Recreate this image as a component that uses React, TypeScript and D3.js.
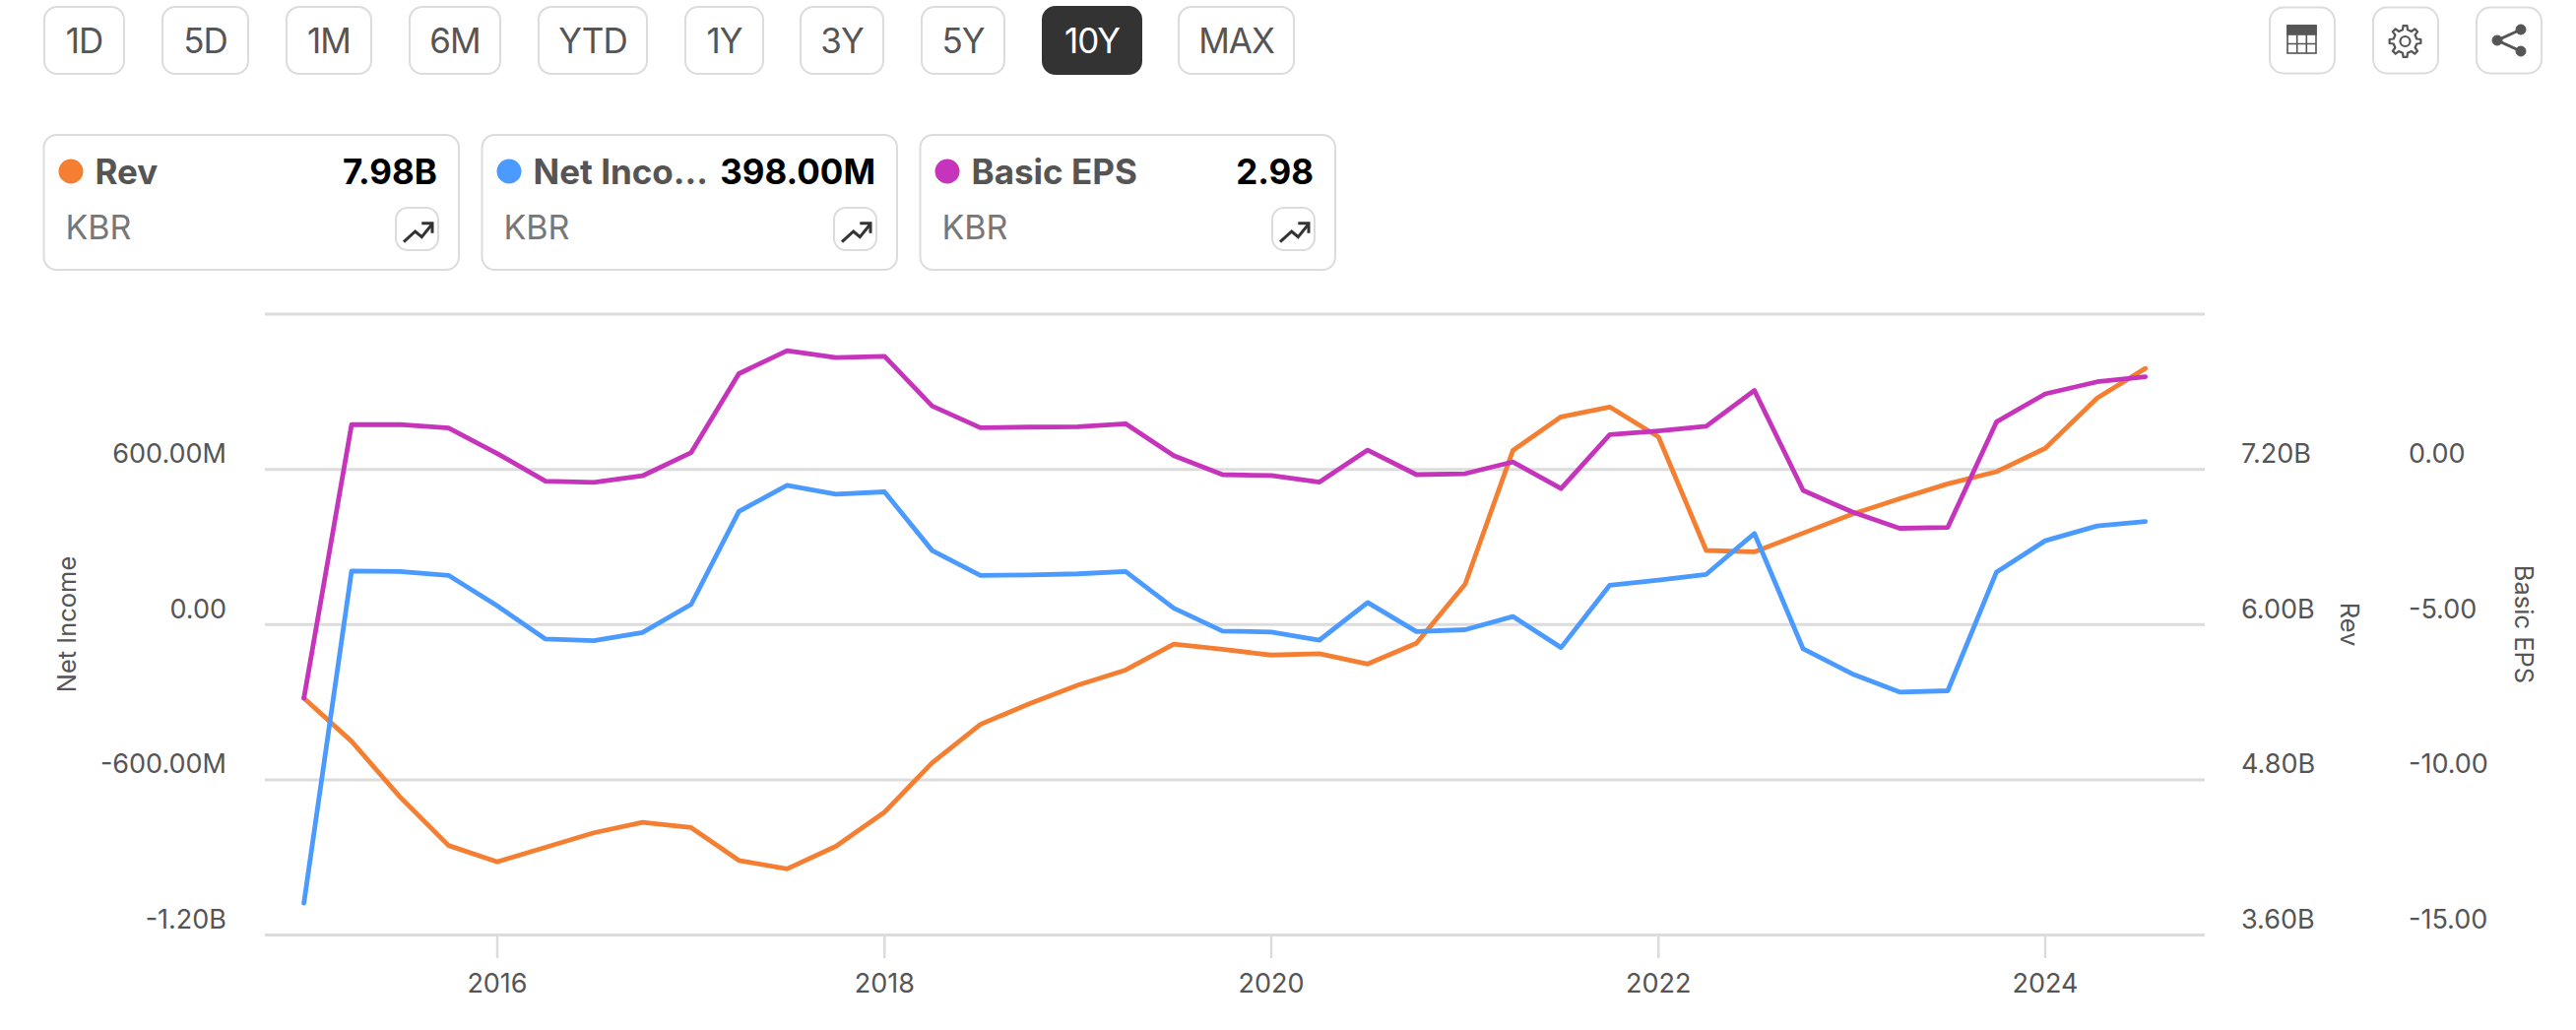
import React from "react";
import * as d3 from "d3";

const quarters = [
  "2015-01-01","2015-04-01","2015-07-01","2015-10-01","2016-01-01","2016-04-01","2016-07-01","2016-10-01",
  "2017-01-01","2017-04-01","2017-07-01","2017-10-01","2018-01-01","2018-04-01","2018-07-01","2018-10-01",
  "2019-01-01","2019-04-01","2019-07-01","2019-10-01","2020-01-01","2020-04-01","2020-07-01","2020-10-01",
  "2021-01-01","2021-04-01","2021-07-01","2021-10-01","2022-01-01","2022-04-01","2022-07-01","2022-10-01",
  "2023-01-01","2023-04-01","2023-07-01","2023-10-01","2024-01-01","2024-04-08","2024-07-08",
];
const revenueB = [
  5.431,5.097,4.669,4.292,4.166,4.278,4.39,4.47,4.43,4.176,4.111,4.285,4.55,4.931,5.228,5.387,
  5.532,5.648,5.848,5.808,5.764,5.775,5.695,5.855,6.312,7.345,7.606,7.682,7.45,6.573,6.562,6.707,
  6.852,6.972,7.088,7.182,7.363,7.751,7.98,
];
const netIncomeM = [
  -1077,207,205,190,72,-56,-62,-31,78,437,538,504,513,286,190,192,
  196,205,63,-25,-29,-60,85,-27,-20,31,-89,152,172,194,352,-94,
  -190,-261,-256,203,324,381,398,
];
const basicEps = [
  -7.37,1.44,1.44,1.33,0.51,-0.38,-0.42,-0.21,0.54,3.08,3.82,3.6,3.64,2.04,1.34,1.36,
  1.37,1.47,0.44,-0.17,-0.2,-0.41,0.62,-0.17,-0.14,0.24,-0.62,1.12,1.24,1.39,2.54,-0.68,
  -1.37,-1.9,-1.87,1.53,2.43,2.82,2.98,
];
const yearTicks = ["2016", "2018", "2020", "2022", "2024"];
const gridIndex = [0, 1, 2, 3, 4];
const leftTicks = ["", "600.00M", "0.00", "-600.00M", "-1.20B"];
const revTicks = ["", "7.20B", "6.00B", "4.80B", "3.60B"];
const epsTicks = ["", "0.00", "-5.00", "-10.00", "-15.00"];
const rangeButtons = [
  ["1D", 44, 127], ["5D", 164, 253], ["1M", 290, 378], ["6M", 415, 509], ["YTD", 546, 658],
  ["1Y", 695, 776], ["3Y", 812, 898], ["5Y", 935, 1021], ["10Y", 1058, 1160], ["MAX", 1196, 1315],
] as const;
const cards = [
  { name: "Rev", value: "7.98B", color: "#F47F32", x0: 43.5, x1: 467 },
  { name: "Net Inco...", value: "398.00M", color: "#4A9AFF", x0: 488.5, x1: 912 },
  { name: "Basic EPS", value: "2.98", color: "#C634BC", x0: 933.5, x1: 1357 },
];

const FONT = "Inter, 'Noto Sans', sans-serif";
const GREY = "#dcdcdc";
const TEXT = "#555555";

const plot = { left: 269, right: 2239, top: 319, bottom: 949.5 };

const x = d3.scaleUtc()
  .domain([new Date("2016-01-01"), new Date("2024-01-01")])
  .range([505, 2077]);
const yNet = d3.scaleLinear().domain([-1200, 1200]).range([plot.bottom, plot.top]);
const yRev = d3.scaleLinear().domain([3.6, 8.4]).range([plot.bottom, plot.top]);
const yEps = d3.scaleLinear().domain([-15, 5]).range([plot.bottom, plot.top]);
const yGrid = d3.scaleLinear().domain([0, 4]).range([plot.top, plot.bottom]);

function linePath(values: number[], y: (v: number) => number) {
  return d3.line<number>()
    .x((_, i) => x(new Date(quarters[i])))
    .y((v) => y(v))(values) as string;
}

function gearPath(cx: number, cy: number, rOuter: number, rInner: number, teeth: number) {
  const pts: [number, number][] = [];
  const step = (Math.PI * 2) / teeth;
  for (let i = 0; i < teeth; i++) {
    const a = i * step - Math.PI / 2;
    const w = step * 0.2;
    [[a - w * 1.35, rInner], [a - w * 0.8, rOuter], [a + w * 0.8, rOuter], [a + w * 1.35, rInner]].forEach(([t, r]) => {
      pts.push([cx + r * Math.cos(t), cy + r * Math.sin(t)]);
    });
  }
  return d3.line().curve(d3.curveLinearClosed)(pts) as string;
}

function IconBox({ x0, x1 }: { x0: number; x1: number }) {
  return <rect x={x0 + 1} y={7.5} width={x1 - x0 - 2} height={67} rx={14} fill="#fff" stroke={GREY} strokeWidth={2} />;
}

export default function App() {
  return (
    <svg width={2616} height={1046} style={{ position: "absolute", left: 0, top: 0, display: "block", background: "#fff" }}>
      {rangeButtons.map(([label, x0, x1]) => {
        const active = label === "10Y";
        return (
          <g key={label}>
            <rect x={x0 + 1} y={7} width={x1 - x0 - 2} height={68} rx={13}
              fill={active ? "#333333" : "#fff"} stroke={active ? "#333333" : GREY} strokeWidth={2} />
            <text x={(x0 + x1) / 2} y={54} textAnchor="middle" fontFamily={FONT} fontSize={35} letterSpacing={-1}
              fill={active ? "#fff" : TEXT}>{label}</text>
          </g>
        );
      })}

      <IconBox x0={2304} x1={2372} />
      <g fill="none" stroke="#555" strokeWidth={1.6}>
        <rect x={2323} y={26} width={29} height={28} />
        <rect x={2323} y={26} width={29} height={9} fill="#555" />
        <path d="M2323 44.5H2352M2332.7 35V54M2342.3 35V54" />
      </g>
      <IconBox x0={2409} x1={2477} />
      <path d={gearPath(2442.5, 42, 16, 12, 8)} fill="none" stroke="#555" strokeWidth={2.2} strokeLinejoin="round" />
      <circle cx={2442.5} cy={42} r={5} fill="none" stroke="#555" strokeWidth={2.2} />
      <IconBox x0={2514} x1={2582} />
      <g fill="#555" stroke="#555">
        <path d="M2560 30L2536 41L2560 52" fill="none" strokeWidth={3} />
        <circle cx={2560} cy={30} r={5} />
        <circle cx={2560} cy={52} r={5} />
        <circle cx={2536} cy={41} r={5} />
      </g>

      {cards.map((c) => (
        <g key={c.name}>
          <rect x={c.x0 + 1} y={137} width={c.x1 - c.x0 - 2} height={137} rx={13} fill="#fff" stroke={GREY} strokeWidth={2} />
          <circle cx={c.x0 + 28.5} cy={174} r={12.5} fill={c.color} />
          <text x={c.x0 + 53} y={187} fontFamily={FONT} fontSize={35} fontWeight={700} fill={TEXT}>{c.name}</text>
          <text x={c.x1 - 23} y={187} textAnchor="end" fontFamily={FONT} fontSize={35} fontWeight={700} fill="#000">{c.value}</text>
          <text x={c.x0 + 23} y={243} fontFamily={FONT} fontSize={34} fill="#777777">KBR</text>
          <rect x={c.x1 - 65} y={211} width={43} height={43} rx={12} fill="#fff" stroke={GREY} strokeWidth={2} />
          <g transform={`translate(${c.x1 - 65},211)`} fill="none" stroke="#333" strokeWidth={3}>
            <path d="M8 34.7L19.7 24L26.3 29.7L36.3 17.3" />
            <path d="M26.3 15.7H37V25.7" />
          </g>
        </g>
      ))}

      {gridIndex.map((i) => (
        <line key={i} x1={plot.left} x2={plot.right} y1={yGrid(i)} y2={yGrid(i)} stroke={GREY} strokeWidth={3} />
      ))}
      {yearTicks.map((t) => {
        const px = x(new Date(`${t}-01-01`));
        return (
          <g key={t}>
            <line x1={px} x2={px} y1={plot.bottom} y2={973} stroke={GREY} strokeWidth={2.5} />
            <text x={px} y={1008} textAnchor="middle" fontFamily={FONT} fontSize={27} fill={TEXT}>{t}</text>
          </g>
        );
      })}
      {gridIndex.map((i) => (
        <g key={i} fontFamily={FONT} fontSize={27} fill={TEXT}>
          <text x={230} y={yGrid(i) - 6.5} textAnchor="end">{leftTicks[i]}</text>
          <text x={2276} y={yGrid(i) - 6.5}>{revTicks[i]}</text>
          <text x={2446} y={yGrid(i) - 6.5}>{epsTicks[i]}</text>
        </g>
      ))}
      <g fontFamily={FONT} fontSize={25.5} fill={TEXT} textAnchor="middle">
        <text transform="translate(77,634) rotate(-90)">Net Income</text>
        <text transform="translate(2377,634) rotate(90)">Rev</text>
        <text transform="translate(2554,634) rotate(90)">Basic EPS</text>
      </g>

      <g fill="none" strokeWidth={4.8} strokeLinejoin="round" strokeLinecap="round">
        <path d={linePath(revenueB, yRev)} stroke="#F47F32" />
        <path d={linePath(netIncomeM, yNet)} stroke="#4A9AFF" />
        <path d={linePath(basicEps, yEps)} stroke="#C634BC" />
      </g>
    </svg>
  );
}
